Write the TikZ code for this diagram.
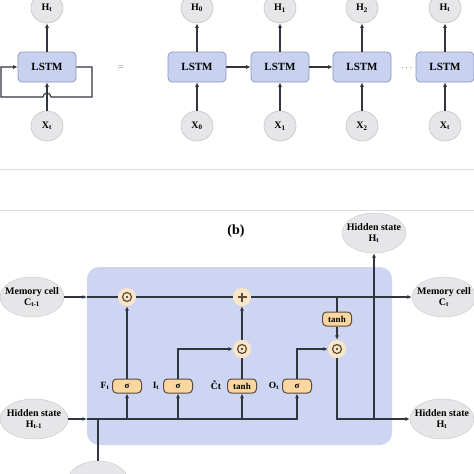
\documentclass[tikz,border=0pt]{standalone}
\usepackage{fontspec}
\setmainfont{Liberation Serif}
\usetikzlibrary{arrows.meta,shapes.geometric}
\definecolor{lc}{HTML}{30353F}
\definecolor{ellfill}{HTML}{E6E6E8}
\definecolor{ellline}{HTML}{C4C4C8}
\definecolor{lstmfill}{HTML}{C8D2F0}
\definecolor{lstmline}{HTML}{8A94B8}
\definecolor{bigfill}{HTML}{CDD5F2}
\definecolor{gatefill}{HTML}{FAD7A0}
\definecolor{gateline}{HTML}{5B4A3A}
\definecolor{opfill}{HTML}{FCE6C8}
\definecolor{sepcol}{HTML}{DADAE4}
\begin{document}
\begin{tikzpicture}[x=1pt,y=-1pt,
  line/.style={draw=lc,line width=1.1pt},
  con/.style={line,-{Latex[length=4.5pt,width=4pt]}},
  ell/.style={ellipse,fill=ellfill,draw=ellline,line width=0.6pt,inner sep=0pt,minimum width=32pt,minimum height=30pt,font=\bfseries\fontsize{10}{10}\selectfont},
  ellb/.style={ellipse,fill=ellfill,draw=ellline,line width=0.4pt,inner sep=0pt,minimum width=64pt,minimum height=40pt},
  lbl/.style={align=center,font=\bfseries\fontsize{10}{11}\selectfont,inner sep=0pt},
  lstm/.style={rectangle,rounded corners=4pt,fill=lstmfill,draw=lstmline,line width=0.7pt,minimum width=58pt,minimum height=30pt,font=\bfseries\fontsize{11}{12}\selectfont},
  gate/.style={rectangle,rounded corners=4pt,fill=gatefill,draw=gateline,line width=1pt,minimum width=29pt,minimum height=14pt,inner sep=0pt,font=\bfseries\fontsize{9}{9}\selectfont},
  glab/.style={font=\bfseries\fontsize{9.5}{10}\selectfont,inner sep=0pt},
  op/.style={circle,fill=opfill,minimum size=18pt,inner sep=0pt},
  odot/.style={op,path picture={\draw[gateline,line width=1.2pt] (path picture bounding box.center) circle[radius=4.5pt];
     \fill[gateline] (path picture bounding box.center) circle[radius=1.4pt];}},
  oplus/.style={op,path picture={\draw[gateline,line width=1.2pt] ([xshift=-4.5pt]path picture bounding box.center) -- ([xshift=4.5pt]path picture bounding box.center);
     \draw[gateline,line width=1.2pt] ([yshift=-4.5pt]path picture bounding box.center) -- ([yshift=4.5pt]path picture bounding box.center);}}
]
\useasboundingbox (0,0) rectangle (474,474);

% ---------- (a) folded ----------
\node[ell] (Hl) at (47,8) {H\textsubscript{t}};
\node[lstm] (Ll) at (47,67) {LSTM};
\node[ell] (Xl) at (47,126) {X\textsubscript{t}};
\draw[con] (Xl) -- (Ll);
\draw[con] (Ll) -- (Hl);
\draw[con] (Ll.east) -- (92,67) -- (92,97) -- (51,97) arc[start angle=0,end angle=-180,radius=4] -- (1,97) -- (1,67) -- (Ll.west);
\node[text=gray,font=\fontsize{10}{10}\selectfont] (eq) at (121,68) {=};

% ---------- (a) unrolled ----------
\foreach \i/\x/\s in {0/197/0,1/280/1,2/362/2,3/445/t}{
  \node[ell] (H\i) at (\x,8) {H\textsubscript{\s}};
  \node[lstm] (L\i) at (\x,67) {LSTM};
  \node[ell] (X\i) at (\x,126) {X\textsubscript{\s}};
  \draw[con] (X\i) -- (L\i);
  \draw[con] (L\i) -- (H\i);
}
\draw[con] (L0) -- (L1);
\draw[con] (L1) -- (L2);
\node[font=\bfseries\fontsize{9}{9}\selectfont] (dots) at (407,68) {$\cdots$};

% separators
\draw[sepcol,line width=1pt] (0,169) -- (474,169);
\draw[sepcol,line width=1pt] (0,210) -- (474,210);

% ---------- (b) ----------
\node[font=\bfseries\fontsize{14}{14}\selectfont] (btitle) at (236,231) {(b)};
\fill[bigfill,rounded corners=12pt] (87,267) rectangle (392,445);

\node[ellb,label={[lbl]center:{Memory cell\\C\textsubscript{t-1}}}] (Cin) at (32,297) {};
\node[ellb,label={[lbl]center:{Memory cell\\C\textsubscript{t}}}] (Cout) at (444,297) {};
\node[ellb,minimum width=68pt,label={[lbl]center:{Hidden state\\H\textsubscript{t-1}}}] (Hin) at (34,419) {};
\node[ellb,label={[lbl]center:{Hidden state\\H\textsubscript{t}}}] (Hout) at (442,419) {};
\node[ellb,label={[lbl]center:{Hidden state\\H\textsubscript{t}}}] (Htop) at (374,233) {};
\node[ellb,minimum width=60pt] (Xin) at (98,481) {};

\coordinate (cEntry) at (87,297);
\coordinate (tb) at (337,297);
\coordinate (hEntry) at (87,419);
\coordinate (hj) at (337,419);
\coordinate (vj) at (374,419);

\node[oplus] (add) at (242,297) {};
\node[odot] (m1) at (127,297) {};
\node[odot] (m2) at (242,349) {};
\node[odot] (m3) at (337,349) {};
\node[gate] (tc) at (337,319) {tanh};
\node[gate] (Fg) at (127,386) {σ};
\node[gate] (Ig) at (178,386) {σ};
\node[gate] (Cg) at (242,386) {tanh};
\node[gate] (Og) at (297,386) {σ};

\node[glab] (Fl) at (105,386) {F\textsubscript{t}};
\node[glab] (Il) at (156,386) {I\textsubscript{t}};
\node[glab] (Cl) at (216,385) {\~{C}t};
\node[glab] (Ol) at (274,386) {O\textsubscript{t}};

% memory line
\draw[con] (Cin) -- (cEntry);
\draw[line] (cEntry) -- (m1);
\draw[line] (m1) -- (add);
\draw[con] (add) -- (Cout);
\draw[line] (tb) -- (tc);
\draw[con] (tc) -- (m3);

% gates
\draw[con] (Fg) -- (m1);
\draw[con] (Ig.north) |- (m2);
\draw[line] (Cg) -- (m2);
\draw[con] (m2) -- (add);
\draw[con] (Og.north) |- (m3);

% hidden line
\draw[con] (Hin) -- (hEntry);
\draw[con] (hEntry) -| (Og.south);
\draw[con] (Fg.south |- hEntry) -- (Fg.south);
\draw[con] (Ig.south |- hEntry) -- (Ig.south);
\draw[con] (Cg.south |- hEntry) -- (Cg.south);
\draw[line] (Xin) -- (Xin |- hEntry);

% output
\draw[con] (m3) -- (hj) -- (Hout);
\draw[con] (vj) -- (Htop);
\end{tikzpicture}
\end{document}
